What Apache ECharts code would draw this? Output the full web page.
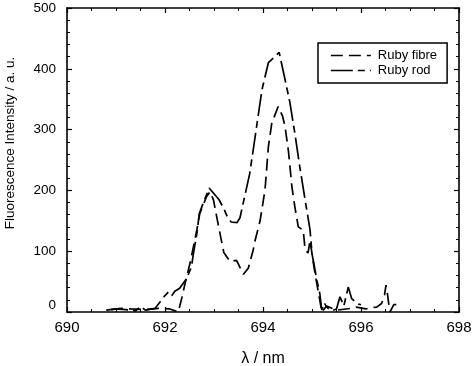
<!DOCTYPE html>
<html>
<head>
<meta charset="utf-8">
<script src="https://cdn.jsdelivr.net/npm/echarts@6/dist/echarts.min.js"></script>
<style>html,body{margin:0;padding:0;background:#fff}#c{width:474px;height:366px}</style>
</head>
<body>
<div id="c"></div>
<script>
// Ruby fibre (lower curve, even dashes)
const fibreWl = [690.9,691.1,691.3,691.6,691.9,692.1,692.27,692.34,692.41,692.51,692.58,692.65,692.71,692.85,692.92,692.99,693.1,693.2,693.33,693.46,693.6,693.7,693.8,693.84,693.94,694.04,694.11,694.18,694.31,694.4,694.45,694.52,694.59,694.65,694.72,694.82,694.86,694.92,694.96,695.06,695.16,695.2,695.3,695.5,695.8,695.9,696.1,696.2,696.32,696.42,696.48,696.51,696.54,696.56,696.59,696.67,696.73];
const fibreVal = [4,6,5,4,6,5,0,22,47,80,107,135,162,190,198,184,138,98,83,85,62,72,102,118,150,200,272,311,338,322,305,264,206,173,140,135,102,97,118,64,19,0,10,3,6,8,5,7,8,14,28,44,30,17,0,12,12];
// Ruby rod (upper curve, long-short dashes)
const rodWl = [690.8,691.0,691.2,691.4,691.5,691.6,691.8,692.0,692.07,692.14,692.2,692.3,692.44,692.54,692.58,692.65,692.7,692.78,692.9,693.1,693.2,693.27,693.35,693.47,693.53,693.73,693.98,694.11,694.33,694.48,694.55,694.65,694.75,694.86,694.96,695.0,695.1,695.16,695.2,695.25,695.3,695.4,695.5,695.57,695.65,695.74,695.81,695.88,695.95,696.0];
const rodVal = [3,5,4,2,9,3,6,27,33,27,34,39,55,74,96,129,162,179,204,185,170,157,148,147,155,228,366,410,427,371,344,294,239,184,135,96,52,30,3,15,8,2,5,25,10,41,22,17,13,12];

const xTicks = [690,692,694,696,698];
const yTicks = [0,100,200,300,400,500];
const seriesNames = ['Ruby fibre','Ruby rod'];

const pairs = (xs, ys) => xs.map((x, i) => [x, ys[i]]);
const font = '"Liberation Sans", Arial, sans-serif';

const axisCommon = {
  axisLine: {show: true, onZero: false, lineStyle: {color: '#000', width: 1.6}},
  axisTick: {show: true, inside: true, length: 5, lineStyle: {color: '#000', width: 1.2}},
  minorTick: {show: true, length: 3, lineStyle: {color: '#000', width: 1}},
  splitLine: {show: false}
};

const chart = echarts.init(document.getElementById('c'), null, {renderer: 'canvas'});
chart.setOption({
  animation: false,
  backgroundColor: '#fff',
  grid: {left: 67, right: 15, top: 8, bottom: 54, containLabel: false, outerBoundsMode: 'none'},
  legend: {
    data: seriesNames,
    orient: 'vertical',
    left: 318, top: 43,
    padding: [6, 10, 6, 12],
    itemWidth: 40, itemHeight: 12, itemGap: 2,
    borderColor: '#000', borderWidth: 1.5,
    backgroundColor: '#fff',
    itemStyle: {opacity: 0},
    lineStyle: {color: '#000', width: 1.7},
    textStyle: {fontFamily: font, fontSize: 13, color: '#000', padding: [0,0,0,2]}
  },
  xAxis: [
    Object.assign({}, axisCommon, {
      type: 'value', min: xTicks[0], max: xTicks[xTicks.length-1], interval: 2,
      minorTick: Object.assign({}, axisCommon.minorTick, {splitNumber: 4}),
      axisLabel: {fontFamily: font, fontSize: 15, color: '#000', margin: 8},
      name: 'λ / nm', nameLocation: 'middle', nameGap: 39,
      nameTextStyle: {fontFamily: font, fontSize: 16, color: '#000'}
    }),
    Object.assign({}, axisCommon, {
      type: 'value', position: 'top', min: xTicks[0], max: xTicks[xTicks.length-1], interval: 2,
      minorTick: Object.assign({}, axisCommon.minorTick, {splitNumber: 4}),
      axisLabel: {show: false}
    })
  ],
  yAxis: [
    Object.assign({}, axisCommon, {
      type: 'value', min: yTicks[0], max: yTicks[yTicks.length-1], interval: 100,
      minorTick: Object.assign({}, axisCommon.minorTick, {splitNumber: 5}),
      axisLabel: {
        fontFamily: font, fontSize: 13.5, color: '#000', margin: 11,
        formatter: v => v === 0 ? '{z|0}' : String(v),
        rich: {z: {fontFamily: font, fontSize: 13.5, color: '#000', padding: [0,0,14,0]}}
      },
      name: 'Fluorescence Intensity / a. u.', nameLocation: 'middle', nameGap: 50,
      nameTextStyle: {fontFamily: font, fontSize: 13.5, color: '#000', padding: [0, 0, 0, 34]}
    }),
    Object.assign({}, axisCommon, {
      type: 'value', position: 'right', min: yTicks[0], max: yTicks[yTicks.length-1], interval: 100,
      minorTick: Object.assign({}, axisCommon.minorTick, {splitNumber: 5}),
      axisLabel: {show: false}
    })
  ],
  series: [
    {
      name: seriesNames[0], type: 'line', symbol: 'none', xAxisIndex: 0, yAxisIndex: 0,
      data: pairs(fibreWl, fibreVal),
      lineStyle: {color: '#000', width: 1.7, type: [12, 6]},
      itemStyle: {color: '#000'}
    },
    {
      name: seriesNames[1], type: 'line', symbol: 'none', xAxisIndex: 0, yAxisIndex: 0,
      data: pairs(rodWl, rodVal),
      lineStyle: {color: '#000', width: 1.7, type: [22, 5, 7, 5]},
      itemStyle: {color: '#000'}
    }
  ]
});
</script>
</body>
</html>
